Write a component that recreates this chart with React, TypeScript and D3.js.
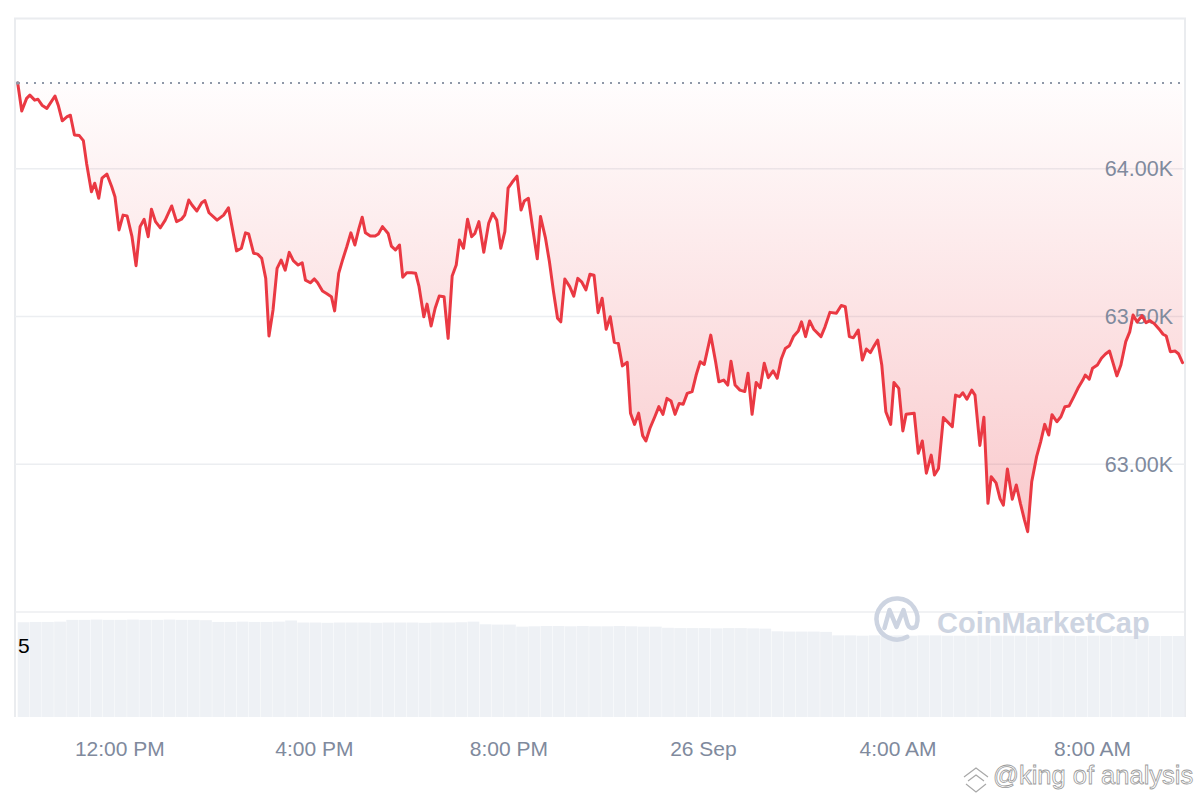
import React from "react";
import * as d3 from "d3";

// ---- data ----
const START = new Date(2024, 8, 25, 9, 54);
const OPEN_PRICE = 64290;

const priceMinutes = [
  0, 5, 11, 15, 21, 25, 30, 36, 46, 50,
  55, 61, 65, 70, 76, 81, 85, 91, 95, 100,
  104, 110, 116, 120, 125, 130, 135, 141, 146, 151,
  156, 161, 165, 170, 176, 182, 190, 196, 202, 206,
  211, 215, 221, 227, 231, 236, 246, 254, 260, 270,
  276, 281, 285, 291, 296, 301, 306, 310, 315, 320,
  325, 330, 335, 340, 346, 351, 355, 361, 366, 370,
  376, 381, 387, 391, 396, 401, 406, 411, 416, 421,
  425, 429, 435, 441, 445, 450, 457, 461, 466, 471,
  475, 480, 486, 491, 495, 501, 505, 510, 515, 520,
  526, 531, 536, 541, 545, 550, 555, 560, 564, 569,
  575, 581, 586, 591, 596, 601, 605, 610, 616, 621,
  625, 630, 635, 641, 645, 651, 656, 661, 666, 670,
  675, 681, 686, 691, 696, 701, 706, 711, 716, 721,
  726, 731, 736, 741, 746, 752, 756, 761, 766, 771,
  775, 780, 786, 791, 796, 801, 806, 811, 816, 821,
  826, 832, 837, 842, 847, 855, 861, 865, 871, 876,
  880, 885, 891, 897, 901, 906, 911, 916, 921, 926,
  932, 937, 942, 947, 952, 957, 963, 967, 972, 977,
  982, 991, 996, 1002, 1010, 1016, 1021, 1026, 1031, 1037,
  1042, 1047, 1052, 1056, 1061, 1066, 1071, 1077, 1081, 1087,
  1092, 1096, 1106, 1111, 1116, 1121, 1127, 1131, 1136, 1142,
  1153, 1157, 1162, 1166, 1171, 1177, 1181, 1187, 1192, 1197,
  1201, 1207, 1212, 1216, 1221, 1227, 1232, 1237, 1242, 1246,
  1251, 1257, 1262, 1267, 1272, 1276, 1282, 1287, 1292, 1297,
  1303, 1308, 1314, 1317, 1322, 1326, 1332, 1337, 1342, 1347,
  1356, 1361, 1367, 1372, 1376, 1381, 1387, 1392, 1397, 1402,
  1408, 1413, 1417, 1422, 1428, 1432, 1437,
];

const priceValues = [
  64290, 64195, 64238, 64249, 64232, 64235, 64215, 64204, 64246, 64215,
  64162, 64176, 64181, 64114, 64112, 64095, 64018, 63922, 63951, 63900,
  63968, 63982, 63939, 63905, 63793, 63843, 63840, 63770, 63672, 63804,
  63829, 63770, 63863, 63821, 63800, 63826, 63874, 63821, 63829, 63843,
  63894, 63877, 63857, 63885, 63892, 63851, 63826, 63843, 63868, 63722,
  63731, 63783, 63779, 63714, 63711, 63697, 63629, 63434, 63522, 63663,
  63691, 63657, 63717, 63689, 63674, 63682, 63623, 63614, 63627, 63614,
  63586, 63578, 63567, 63519, 63646, 63693, 63736, 63783, 63742, 63798,
  63836, 63783, 63772, 63772, 63779, 63804, 63781, 63738, 63725, 63742,
  63633, 63648, 63648, 63646, 63603, 63499, 63542, 63468, 63528, 63569,
  63567, 63426, 63637, 63674, 63759, 63731, 63829, 63770, 63781, 63821,
  63717, 63815, 63849, 63826, 63731, 63787, 63934, 63954, 63975, 63860,
  63891, 63900, 63804, 63695, 63838, 63767, 63685, 63584, 63494, 63482,
  63627, 63601, 63569, 63629, 63616, 63590, 63643, 63640, 63513, 63562,
  63457, 63499, 63413, 63409, 63333, 63345, 63173, 63135, 63173, 63097,
  63079, 63122, 63161, 63195, 63169, 63223, 63214, 63169, 63206, 63203,
  63240, 63246, 63302, 63347, 63338, 63437, 63347, 63279, 63285, 63268,
  63349, 63268, 63251, 63246, 63308, 63169, 63277, 63259, 63342, 63293,
  63316, 63291, 63356, 63392, 63401, 63432, 63451, 63482, 63432, 63485,
  63457, 63432, 63465, 63514, 63511, 63537, 63533, 63432, 63428, 63454,
  63353, 63390, 63378, 63398, 63420, 63336, 63178, 63135, 63277, 63257,
  63113, 63169, 63173, 63037, 63079, 62970, 63031, 62964, 62986, 63158,
  63127, 63234, 63229, 63242, 63220, 63251, 63234, 63064, 63159, 62868,
  62958, 62937, 62883, 62862, 62984, 62882, 62930, 62868, 62812, 62772,
  62941, 63026, 63076, 63135, 63099, 63168, 63144, 63161, 63195, 63197,
  63229, 63257, 63285, 63302, 63288, 63325, 63336, 63359, 63373, 63383,
  63299, 63336, 63415, 63449, 63505, 63481, 63503, 63479, 63486, 63476,
  63458, 63440, 63434, 63381, 63383, 63374, 63344,
];

// 24h volume (billions USD), 15-minute bars
const VOLUME_STEP_MIN = 15;
const volumeValues = [
  32.4, 32.5, 32.5, 32.6,
  33.2, 33.2, 33.3, 33.2, 33.2, 33.3, 33.2, 33.2, 33.3, 33.2, 33.2, 33.1,
  32.5, 32.5, 32.6, 32.5, 32.5, 32.6,
  33.0,
  32.3, 32.3, 32.2, 32.3, 32.3, 32.3, 32.2, 32.3, 32.3, 32.3, 32.2, 32.3, 32.3, 32.4,
  32.6,
  31.7, 31.6, 31.6,
  30.9, 31.0, 31.1, 31.1, 31.0, 31.1, 31.0, 31.0, 31.1, 31.0, 30.9, 30.9,
  30.5, 30.4, 30.4, 30.4, 30.3, 30.4, 30.4, 30.3, 30.2,
  29.3, 29.2, 29.2, 29.2, 29.1,
  27.9, 27.9, 27.8, 27.9, 27.9, 27.9, 27.8, 27.9, 27.9, 27.8,
  27.8, 27.8, 27.9, 27.8, 27.8, 27.8, 27.7, 27.8, 27.8, 27.8,
  27.7, 27.8, 27.8, 27.7, 27.7, 27.8, 27.7, 27.7, 27.7,
];

const gridTicks = [62500, 63000, 63500, 64000];
const labelTicks = [63000, 63500, 64000];

const RED = "#ea3943";
const AXIS_TEXT = "#808a9d";
const FONT = "'Liberation Sans', Arial, Helvetica, sans-serif";

export default function App() {
  const W = 1200;
  const H = 800;
  const left = 15;
  const right = 1185;
  const top = 18.5;
  const bottom = 717;

  const times = priceMinutes.map((m) => new Date(START.getTime() + m * 60000));
  const pts = times.map((t, i) => ({ t, v: priceValues[i] }));

  const x = d3
    .scaleTime()
    .domain([times[0], times[times.length - 1]])
    .range([17.7, 1182.5]);
  const y = d3.scaleLinear().domain([63000, 64000]).range([464.3, 168.7]);
  const yVol = d3.scaleLinear().domain([0, 40]).range([bottom, 600]);

  const line = d3
    .line<{ t: Date; v: number }>()
    .x((d) => x(d.t))
    .y((d) => y(d.v))
    .curve(d3.curveLinear);
  const area = d3
    .area<{ t: Date; v: number }>()
    .x((d) => x(d.t))
    .y0(y(OPEN_PRICE))
    .y1((d) => y(d.v));

  const minV = d3.min(priceValues) as number;

  const xTicks = x.ticks(d3.timeHour.every(4) as any);
  const fmtTime = d3.timeFormat("%-I:%M %p");
  const fmtDay = d3.timeFormat("%-d %b");
  const fmtTick = (d: Date) => (d.getHours() === 0 ? fmtDay(d) : fmtTime(d));

  const volStart = START.getTime();
  const barW = x(new Date(volStart + VOLUME_STEP_MIN * 60000)) - x(new Date(volStart));

  const wm = "#cdd4e1";

  return (
    <svg
      width={W}
      height={H}
      viewBox={`0 0 ${W} ${H}`}
      style={{ position: "absolute", left: 0, top: 0, background: "#fff", fontFamily: FONT }}
    >
      <defs>
        <linearGradient
          id="redFill"
          gradientUnits="userSpaceOnUse"
          x1={0}
          x2={0}
          y1={y(OPEN_PRICE)}
          y2={y(minV)}
        >
          <stop offset="0%" stopColor={RED} stopOpacity={0.01} />
          <stop offset="100%" stopColor={RED} stopOpacity={0.27} />
        </linearGradient>
      </defs>

      {/* frame */}
      <path
        d={`M${left},${bottom} L${left},${top} L${right},${top} L${right},${bottom}`}
        fill="none"
        stroke="#eaecef"
        strokeWidth={2}
      />

      {/* grid */}
      {gridTicks.map((t) => (
        <line key={t} x1={left} x2={right} y1={y(t)} y2={y(t)} stroke="#eceef1" strokeWidth={1.5} />
      ))}

      {/* volume bars */}
      {volumeValues.map((v, i) => {
        const bx = x(new Date(volStart + i * VOLUME_STEP_MIN * 60000));
        return (
          <rect
            key={i}
            x={bx}
            y={yVol(v)}
            width={Math.max(barW - 0.4, 0.5)}
            height={yVol(0) - yVol(v)}
            fill="#eef1f5"
          />
        );
      })}

      {/* area fill */}
      <path d={area(pts) || ""} fill="url(#redFill)" stroke="none" />

      {/* CoinMarketCap watermark */}
      <g>
        <path
          d="M907.3,636.8 A20.5,20.5 0 1 1 916.3,626"
          fill="none"
          stroke={wm}
          strokeWidth={4.5}
          strokeLinecap="round"
        />
        <path
          d="M884.5,628 L889.5,610 L896.5,627 L903.5,610 L907.5,624 Q909.5,630 915.5,627"
          fill="none"
          stroke={wm}
          strokeWidth={4.5}
          strokeLinecap="round"
          strokeLinejoin="round"
        />
        <text x={937} y={633} fontSize={29} fontWeight={700} fill={wm}>
          CoinMarketCap
        </text>
      </g>

      {/* open-price baseline */}
      <line
        x1={18}
        x2={1180}
        y1={y(OPEN_PRICE)}
        y2={y(OPEN_PRICE)}
        stroke="#8f98a8"
        strokeWidth={2}
        strokeDasharray="2 6"
      />

      {/* y labels */}
      {labelTicks.map((t) => (
        <text key={t} x={1173} y={y(t) + 7.5} textAnchor="end" fontSize={21.5} fill={AXIS_TEXT}>
          {(t / 1000).toFixed(2) + "K"}
        </text>
      ))}

      {/* price line */}
      <path d={line(pts) || ""} fill="none" stroke={RED} strokeWidth={3} strokeLinejoin="round" strokeLinecap="round" />
      <circle cx={x(times[0])} cy={y(OPEN_PRICE)} r={1.8} fill="#8f98a8" />

      {/* volume label */}
      <text x={18} y={653} fontSize={21} fill="#000">
        5
      </text>

      {/* x labels */}
      {xTicks.map((t) => (
        <text key={+t} x={x(t)} y={756} textAnchor="middle" fontSize={21} fill={AXIS_TEXT}>
          {fmtTick(t)}
        </text>
      ))}

      {/* author watermark */}
      <g fill="none" stroke="#a8a8a8" strokeWidth={1.2}>
        <path d="M964,777 L976,768 L988,777" />
        <path d="M968,781 L976,775 L984,781" />
        <path d="M966,784 L976,792 L986,784" />
      </g>
      <text x={993} y={784} fontSize={25.5} fill="#ffffff" stroke="#9a9a9a" strokeWidth={0.8}>
        @king of analysis
      </text>
    </svg>
  );
}
